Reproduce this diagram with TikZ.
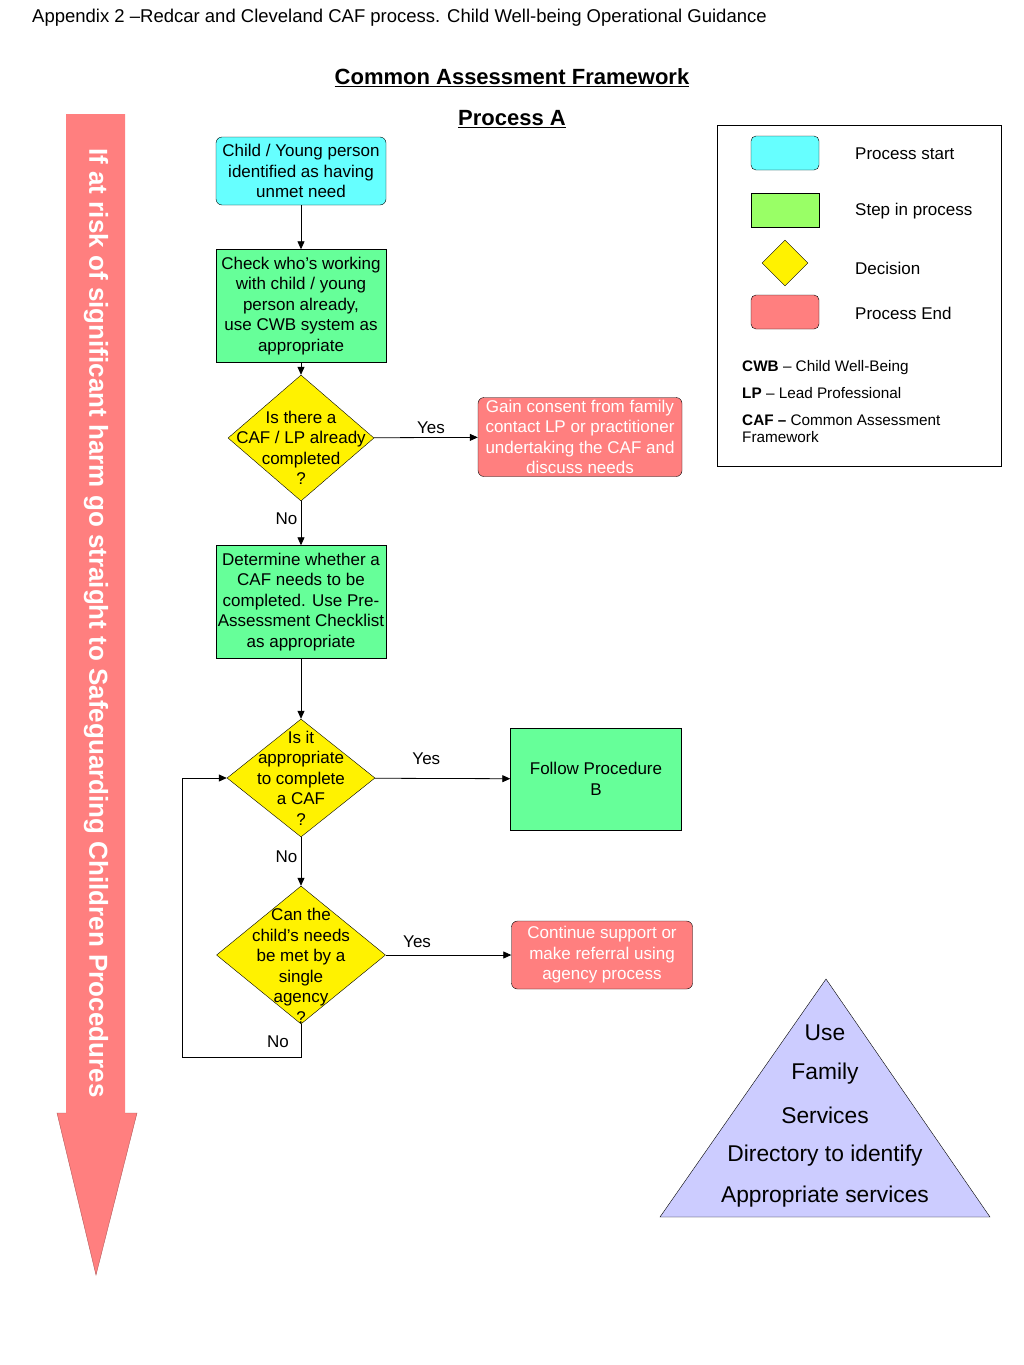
\documentclass[tikz,border=0pt]{standalone}
\usepackage{fontspec}
\setmainfont{Liberation Sans}
\usetikzlibrary{shapes.geometric,arrows.meta}
\definecolor{cy}{HTML}{66FFFF}
\definecolor{gr}{HTML}{66FF99}
\definecolor{lg}{HTML}{99FF66}
\definecolor{rd}{HTML}{FF7F7F}
\definecolor{lav}{HTML}{CCCCFF}
\begin{document}
\begin{tikzpicture}[x=1pt,y=-1pt,
 txt/.style={font=\fontsize{17}{20.5}\selectfont,align=center},
 box/.style={txt,draw,minimum width=170pt,inner sep=0pt},
 dia/.style={draw,fill=yellow,diamond,inner sep=0pt},
 arr/.style={-{Triangle[length=8pt,width=7pt]},thick},
 lab/.style={font=\fontsize{17}{20}\selectfont}]
\useasboundingbox (0,0) rectangle (1024,1365);
\node[anchor=west,font=\fontsize{18.5}{20}\selectfont,inner sep=0pt] (hdr) at (32,18) {Appendix 2 –Redcar and Cleveland CAF process. Child Well-being Operational Guidance};
\node[font=\bfseries\fontsize{22}{24}\selectfont] (t1) at (512,78) {\underline{Common Assessment Framework}};
\node[font=\bfseries\fontsize{22}{24}\selectfont] (t2) at (512,119) {\underline{Process A}};
% red arrow
\fill[rd] (66,114) -- (125,114) -- (125,1113) -- (137,1113) -- (96,1275) -- (57,1113) -- (66,1113) -- cycle;
\draw[rd!70!black,thin] (125,1113) -- (137,1113) -- (96,1275) -- (57,1113) -- (66,1113);
\node[rotate=-90,text=white,font=\bfseries\fontsize{26}{28}\selectfont] (side) at (96,623) {If at risk of significant harm go straight to Safeguarding Children Procedures};
% nodes
\node[box,fill=cy,rounded corners=6pt,minimum height=68pt] (start) at (301,171) {Child / Young person\\identified as having\\unmet need};
\node[box,fill=gr,minimum height=113pt] (check) at (301,306) {Check who’s working\\with child / young\\person already,\\use CWB system as\\appropriate};
\node[dia,minimum width=146pt,minimum height=126pt] (d1) at (301,438) {};
\node[txt] (d1t) at (301,448) {Is there a\\CAF / LP already\\completed\\?};
\node[box,fill=rd,text=white,rounded corners=6pt,minimum width=204pt,minimum height=79pt] (gain) at (580,437) {Gain consent from family\\contact LP or practitioner\\undertaking the CAF and\\discuss needs};
\node[box,fill=gr,minimum height=113pt] (det) at (301,602) {Determine whether a\\CAF needs to be\\completed. Use Pre-\\Assessment Checklist\\as appropriate};
\node[dia,minimum width=148pt,minimum height=118pt] (d2) at (301,778) {};
\node[txt] (d2t) at (301,778) {Is it\\appropriate\\to complete\\a CAF\\?};
\node[box,fill=gr,minimum width=171pt,minimum height=102pt] (fb) at (596,779) {Follow Procedure\\B};
\node[dia,minimum width=169pt,minimum height=138pt] (d3) at (301,955) {};
\node[txt] (d3t) at (301,966) {Can the\\child’s needs\\be met by a\\single\\agency\\?};
\node[box,fill=rd,text=white,rounded corners=6pt,minimum width=181pt,minimum height=68pt] (cont) at (602,955) {Continue support or\\make referral using\\agency process};
% connectors
\draw[arr] (start) -- (check);
\draw[arr] (check) -- (d1);
\draw[arr] (d1) -- node[lab,above,pos=0.55]{Yes} (gain);
\draw[arr] (d1) -- node[lab,left,pos=0.4]{No} (det);
\draw[arr] (det) -- (d2);
\draw[arr] (d2) -- node[lab,above=10pt,pos=0.38]{Yes} (fb);
\draw[arr] (d2) -- node[lab,left,pos=0.4]{No} (d3);
\draw[arr] (d3) -- node[lab,above=4pt,pos=0.25]{Yes} (cont);
\coordinate (c1) at (301,1057);
\coordinate (c2) at (182,1057);
\coordinate (c3) at (182,778);
\draw[arr] (d3.south) -- (c1) -- (c2) -- (c3) -- (d2.west);
\node[lab] (no3) at (278,1042) {No};
% legend
\node[draw,thick,minimum width=284pt,minimum height=341pt] (leg) at (859,295.5) {};
\node[draw,fill=cy,rounded corners=5pt,minimum width=68pt,minimum height=34pt] (l1) at (785,153) {};
\node[draw,fill=lg,minimum width=68pt,minimum height=34pt] (l2) at (785,210) {};
\node[draw,fill=yellow,diamond,minimum width=46pt,minimum height=46pt,inner sep=0pt] (l3) at (785,263) {};
\node[draw,fill=rd,rounded corners=5pt,minimum width=68pt,minimum height=34pt] (l4) at (785,312) {};
\node[lab,anchor=west,inner sep=0pt] (lt1) at (855,154) {Process start};
\node[lab,anchor=west,inner sep=0pt] (lt2) at (855,211) {Step in process};
\node[lab,anchor=west,inner sep=0pt] (lt3) at (855,268) {Decision};
\node[lab,anchor=west,inner sep=0pt] (lt4) at (855,313) {Process End};
\node[anchor=north west,align=left,font=\fontsize{15.3}{18}\selectfont,inner sep=0pt] (defs) at (742,360) {\textbf{CWB} – Child Well-Being\\[9pt]\textbf{LP} – Lead Professional\\[9pt]\textbf{CAF –} Common Assessment\\[-1pt]Framework};
% triangle
\draw[fill=lav] (660,1217) -- (990,1217) -- (826,979) -- cycle;
\foreach \t/\y [count=\i] in {Use/1033,Family/1074,Services/1115,Directory to identify/1156,Appropriate services/1197}
  \node[font=\fontsize{22.8}{24}\selectfont] (tri\i) at (825,\y) {\t};
\end{tikzpicture}
\end{document}
